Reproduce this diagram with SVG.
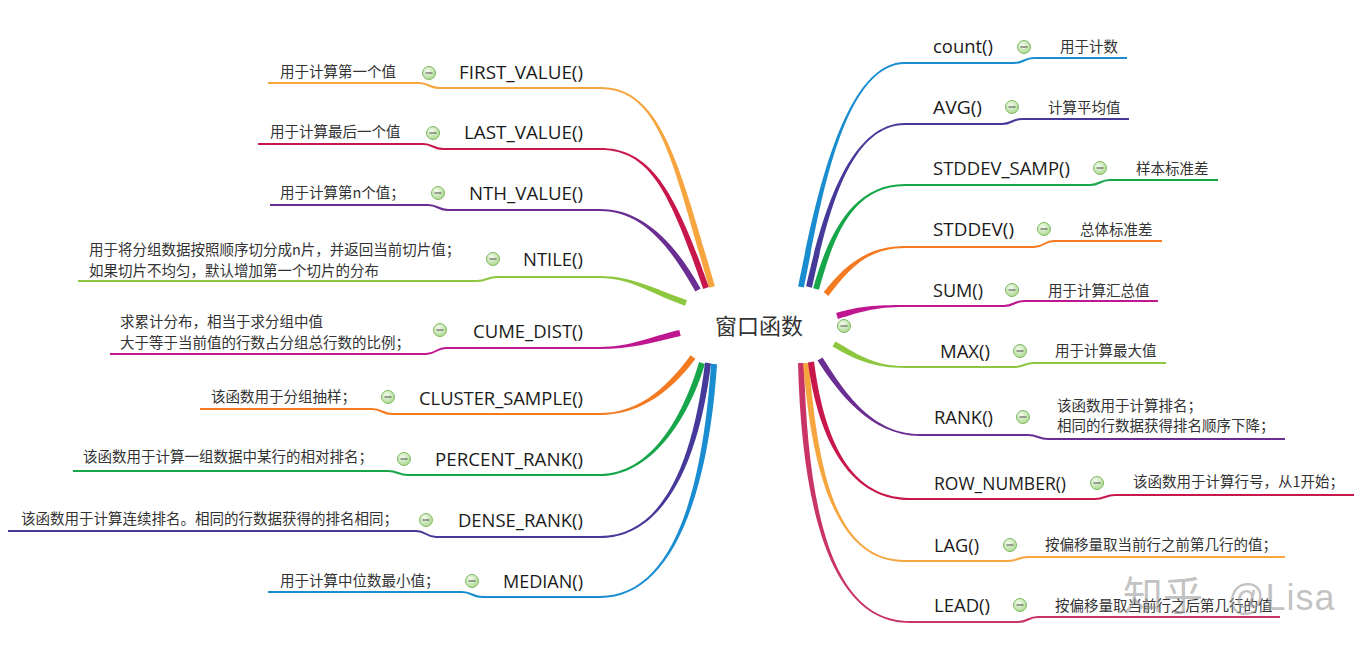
<svg xmlns="http://www.w3.org/2000/svg" xmlns:xlink="http://www.w3.org/1999/xlink" width="1371" height="657" viewBox="0 0 1371 657">
<style>
.lbl{font-family:"Open Sans","Noto Sans","Liberation Sans",sans-serif;font-size:18px;fill:#1a1a1a}
.desc{font-family:"Noto Sans CJK SC","Noto Sans",sans-serif;font-size:14.5px;fill:#333}
.root{font-family:"Noto Sans CJK SC","Noto Sans",sans-serif;font-size:22px;fill:#333}
.hl{fill:none;stroke-width:2;stroke-linecap:butt}
.wm{font-family:"Noto Sans CJK SC","Liberation Sans",sans-serif;font-size:40px;fill:#9a9a9a;fill-opacity:0.6}
</style>
<defs>
<radialGradient id="mg" cx="0.4" cy="0.35" r="0.7">
<stop offset="0" stop-color="#f4fbef"/>
<stop offset="1" stop-color="#a9d88c"/>
</radialGradient>
<g id="minus">
<circle r="6.5" fill="url(#mg)" stroke="#7fb862" stroke-width="1"/>
<line x1="-3.5" y1="0" x2="3.5" y2="0" stroke="#4a4a4a" stroke-width="1"/>
</g>
</defs>
<rect width="1371" height="657" fill="#ffffff"/>

<g id="connectors">
<!-- left -->
<path d="M600,89 C660,89 672.1,160.8 709.1,287.8 L714.9,286.2 C677.9,159.2 660,87 600,87 Z" fill="#F6A53F"/>
<path class="hl" stroke="#F6A53F" d="M268,83 L419,83 C429,83 429,88 439,88 L601,88"/>
<path d="M600,150 C650,150 669.2,191 703.2,289 L708.8,287 C674.8,189 650,148 600,148 Z" fill="#C8174B"/>
<path class="hl" stroke="#C8174B" d="M258,144 L423,144 C433,144 433,149 443,149 L601,149"/>
<path d="M600,211 C640,211 667.4,241.5 695.4,291.5 L700.6,288.5 C672.6,238.5 640,209 600,209 Z" fill="#6A2D91"/>
<path class="hl" stroke="#6A2D91" d="M270,205 L428,205 C438,205 438,210 448,210 L601,210"/>
<path d="M600,278 C630,278 649,292.8 685,305.8 L687,300.2 C651,287.2 630,276 600,276 Z" fill="#8DC73F"/>
<path class="hl" stroke="#8DC73F" d="M78,281 L477,281 C487,281 487,277 497,277 L601,277"/>
<path d="M600,349 C630,349 650.7,342.9 680.7,335.9 L679.3,330.1 C649.3,337.1 630,347 600,347 Z" fill="#BE178F"/>
<path class="hl" stroke="#BE178F" d="M110,354 L426,354 C436,354 436,348 446,348 L601,348"/>
<path d="M600,415 C635,415 667.4,396.8 695.4,358.8 L690.6,355.2 C662.6,393.2 635,413 600,413 Z" fill="#F37A20"/>
<path class="hl" stroke="#F37A20" d="M200,409 L372,409 C382,409 382,414 392,414 L601,414"/>
<path d="M600,476 C650,476 687.9,420.9 704.9,363.9 L699.1,362.1 C682.1,419.1 650,474 600,474 Z" fill="#18A64A"/>
<path class="hl" stroke="#18A64A" d="M73,471 L388,471 C398,471 398,475 408,475 L601,475"/>
<path d="M600,538 C660,538 698,470.4 711,363.4 L705,362.6 C692,469.6 660,536 600,536 Z" fill="#45399A"/>
<path class="hl" stroke="#45399A" d="M8,531 L416,531 C426,531 426,537 436,537 L601,537"/>
<path d="M600,598 C670,598 708,500.2 717,364.2 L711,363.8 C702,499.8 670,596 600,596 Z" fill="#1A8DD0"/>
<path class="hl" stroke="#1A8DD0" d="M268,592 L462,592 C472,592 472,597 482,597 L601,597"/>
<!-- right -->
<path d="M905,62 C840,62 812.1,219.4 798.1,286.4 L803.9,287.6 C817.9,220.6 840,64 905,64 Z" fill="#1A8DD0"/>
<path class="hl" stroke="#1A8DD0" d="M904,63 L1014,63 C1024,63 1024,58 1034,58 L1127,58"/>
<path d="M905,123 C845,123 819.1,229.3 806.1,286.3 L811.9,287.7 C824.9,230.7 845,125 905,125 Z" fill="#45399A"/>
<path class="hl" stroke="#45399A" d="M904,124 L1002,124 C1012,124 1012,119 1022,119 L1129,119"/>
<path d="M905,184 C850,184 827.1,239.2 813.1,288.2 L818.9,289.8 C832.9,240.8 850,186 905,186 Z" fill="#18A64A"/>
<path class="hl" stroke="#18A64A" d="M904,185 L1090,185 C1100,185 1100,180 1110,180 L1218,180"/>
<path d="M905,246 C865,246 842.7,268.1 823.7,292.1 L828.3,295.9 C847.3,271.9 865,248 905,248 Z" fill="#F37A20"/>
<path class="hl" stroke="#F37A20" d="M904,247 L1034,247 C1044,247 1044,241 1054,241 L1162,241"/>
<path d="M905,305 C875,305 859.1,306.1 836.1,313.1 L837.9,318.9 C860.9,311.9 875,307 905,307 Z" fill="#BE178F"/>
<path class="hl" stroke="#BE178F" d="M904,306 L1004,306 C1014,306 1014,301 1024,301 L1158,301"/>
<path d="M905,366 C875,366 859.5,355.4 835.5,341.4 L832.5,346.6 C856.5,360.6 875,368 905,368 Z" fill="#8DC73F"/>
<path class="hl" stroke="#8DC73F" d="M904,367 L1014,367 C1024,367 1024,363 1034,363 L1166,363"/>
<path d="M910,623 C835,623 802,520.1 798,363.1 L804,362.9 C808,519.9 835,621 910,621 Z" fill="#C93468"/>
<path class="hl" stroke="#C93468" d="M909,622 L1018,622 C1028,622 1028,617 1038,617 L1280,617"/>
<path d="M905,560 C835,560 818,469.8 809,362.8 L803,363.3 C812,470.3 835,562 905,562 Z" fill="#F6A53F"/>
<path class="hl" stroke="#F6A53F" d="M904,561 L1008,561 C1018,561 1018,557 1028,557 L1285,557"/>
<path d="M910,498 C845,498 823,429.6 814,361.6 L808,362.4 C817,430.4 845,500 910,500 Z" fill="#C8174B"/>
<path class="hl" stroke="#C8174B" d="M909,499 L1095,499 C1105,499 1105,495 1115,495 L1354,495"/>
<path d="M920,434 C870,434 842.5,388.4 822.5,357.4 L817.5,360.6 C837.5,391.6 870,436 920,436 Z" fill="#6A2D91"/>
<path class="hl" stroke="#6A2D91" d="M919,435 L1028,435 C1038,435 1038,439 1048,439 L1285,439"/>
</g>

<g id="root">
<text class="root" x="759" y="334" text-anchor="middle">窗口函数</text>
<use xlink:href="#minus" x="844" y="326"/>
</g>

<g id="n-first_value">
<text class="lbl" x="583" y="79" text-anchor="end" textLength="124" lengthAdjust="spacingAndGlyphs">FIRST_VALUE()</text>
<use xlink:href="#minus" x="429" y="73"/>
<text class="desc" x="280" y="77">用于计算第一个值</text>
</g>
<g id="n-last_value">
<text class="lbl" x="583" y="139" text-anchor="end" textLength="119" lengthAdjust="spacingAndGlyphs">LAST_VALUE()</text>
<use xlink:href="#minus" x="433" y="133"/>
<text class="desc" x="270" y="137">用于计算最后一个值</text>
</g>
<g id="n-nth_value">
<text class="lbl" x="583" y="200" text-anchor="end" textLength="114" lengthAdjust="spacingAndGlyphs">NTH_VALUE()</text>
<use xlink:href="#minus" x="438" y="193"/>
<text class="desc" x="280" y="198">用于计算第n个值；</text>
</g>
<g id="n-ntile">
<text class="lbl" x="583" y="266" text-anchor="end" textLength="60" lengthAdjust="spacingAndGlyphs">NTILE()</text>
<use xlink:href="#minus" x="493" y="259"/>
<text class="desc" x="89" y="255">用于将分组数据按照顺序切分成n片，并返回当前切片值；</text>
<text class="desc" x="89" y="276">如果切片不均匀，默认增加第一个切片的分布</text>
</g>
<g id="n-cume_dist">
<text class="lbl" x="583" y="338" text-anchor="end" textLength="110" lengthAdjust="spacingAndGlyphs">CUME_DIST()</text>
<use xlink:href="#minus" x="440" y="330"/>
<text class="desc" x="120" y="327">求累计分布，相当于求分组中值</text>
<text class="desc" x="120" y="348">大于等于当前值的行数占分组总行数的比例；</text>
</g>
<g id="n-cluster_sample">
<text class="lbl" x="583" y="405" text-anchor="end" textLength="164" lengthAdjust="spacingAndGlyphs">CLUSTER_SAMPLE()</text>
<use xlink:href="#minus" x="388" y="397"/>
<text class="desc" x="211" y="402">该函数用于分组抽样；</text>
</g>
<g id="n-percent_rank">
<text class="lbl" x="583" y="466" text-anchor="end" textLength="148" lengthAdjust="spacingAndGlyphs">PERCENT_RANK()</text>
<use xlink:href="#minus" x="404" y="459"/>
<text class="desc" x="83" y="462">该函数用于计算一组数据中某行的相对排名；</text>
</g>
<g id="n-dense_rank">
<text class="lbl" x="583" y="527" text-anchor="end" textLength="125" lengthAdjust="spacingAndGlyphs">DENSE_RANK()</text>
<use xlink:href="#minus" x="426" y="520"/>
<text class="desc" x="21" y="524">该函数用于计算连续排名。相同的行数据获得的排名相同；</text>
</g>
<g id="n-median">
<text class="lbl" x="583" y="588" text-anchor="end" textLength="80" lengthAdjust="spacingAndGlyphs">MEDIAN()</text>
<use xlink:href="#minus" x="472" y="581"/>
<text class="desc" x="280" y="586">用于计算中位数最小值；</text>
</g>

<g id="n-count">
<text class="lbl" x="933" y="53" textLength="60" lengthAdjust="spacingAndGlyphs">count()</text>
<use xlink:href="#minus" x="1024" y="47"/>
<text class="desc" x="1060" y="52">用于计数</text>
</g>
<g id="n-avg">
<text class="lbl" x="933" y="114" textLength="49" lengthAdjust="spacingAndGlyphs">AVG()</text>
<use xlink:href="#minus" x="1012" y="107"/>
<text class="desc" x="1048" y="113">计算平均值</text>
</g>
<g id="n-stddev_samp">
<text class="lbl" x="933" y="175" textLength="137" lengthAdjust="spacingAndGlyphs">STDDEV_SAMP()</text>
<use xlink:href="#minus" x="1100" y="168"/>
<text class="desc" x="1136" y="174">样本标准差</text>
</g>
<g id="n-stddev">
<text class="lbl" x="933" y="236" textLength="81" lengthAdjust="spacingAndGlyphs">STDDEV()</text>
<use xlink:href="#minus" x="1044" y="229"/>
<text class="desc" x="1080" y="235">总体标准差</text>
</g>
<g id="n-sum">
<text class="lbl" x="933" y="297" textLength="50" lengthAdjust="spacingAndGlyphs">SUM()</text>
<use xlink:href="#minus" x="1012" y="290"/>
<text class="desc" x="1048" y="296">用于计算汇总值</text>
</g>
<g id="n-max">
<text class="lbl" x="940" y="358" textLength="50" lengthAdjust="spacingAndGlyphs">MAX()</text>
<use xlink:href="#minus" x="1020" y="351"/>
<text class="desc" x="1055" y="356">用于计算最大值</text>
</g>
<g id="n-rank">
<text class="lbl" x="934" y="424" textLength="59" lengthAdjust="spacingAndGlyphs">RANK()</text>
<use xlink:href="#minus" x="1023" y="417"/>
<text class="desc" x="1057" y="411">该函数用于计算排名；</text>
<text class="desc" x="1057" y="431">相同的行数据获得排名顺序下降；</text>
</g>
<g id="n-row_number">
<text class="lbl" x="934" y="490" textLength="132" lengthAdjust="spacingAndGlyphs">ROW_NUMBER()</text>
<use xlink:href="#minus" x="1097" y="483"/>
<text class="desc" x="1133" y="487">该函数用于计算行号，从1开始；</text>
</g>
<g id="n-lag">
<text class="lbl" x="934" y="552" textLength="45" lengthAdjust="spacingAndGlyphs">LAG()</text>
<use xlink:href="#minus" x="1010" y="545"/>
<text class="desc" x="1045" y="550">按偏移量取当前行之前第几行的值；</text>
</g>
<g id="n-lead">
<text class="lbl" x="934" y="612" textLength="56" lengthAdjust="spacingAndGlyphs">LEAD()</text>
<use xlink:href="#minus" x="1020" y="605"/>
<text class="desc" x="1055" y="611">按偏移量取当前行之后第几行的值</text>
</g>

<text class="wm" x="1123" y="610" font-size="40">知乎<tspan x="1228" font-family="Liberation Sans" font-size="36" letter-spacing="1">@Lisa</tspan></text>
</svg>
